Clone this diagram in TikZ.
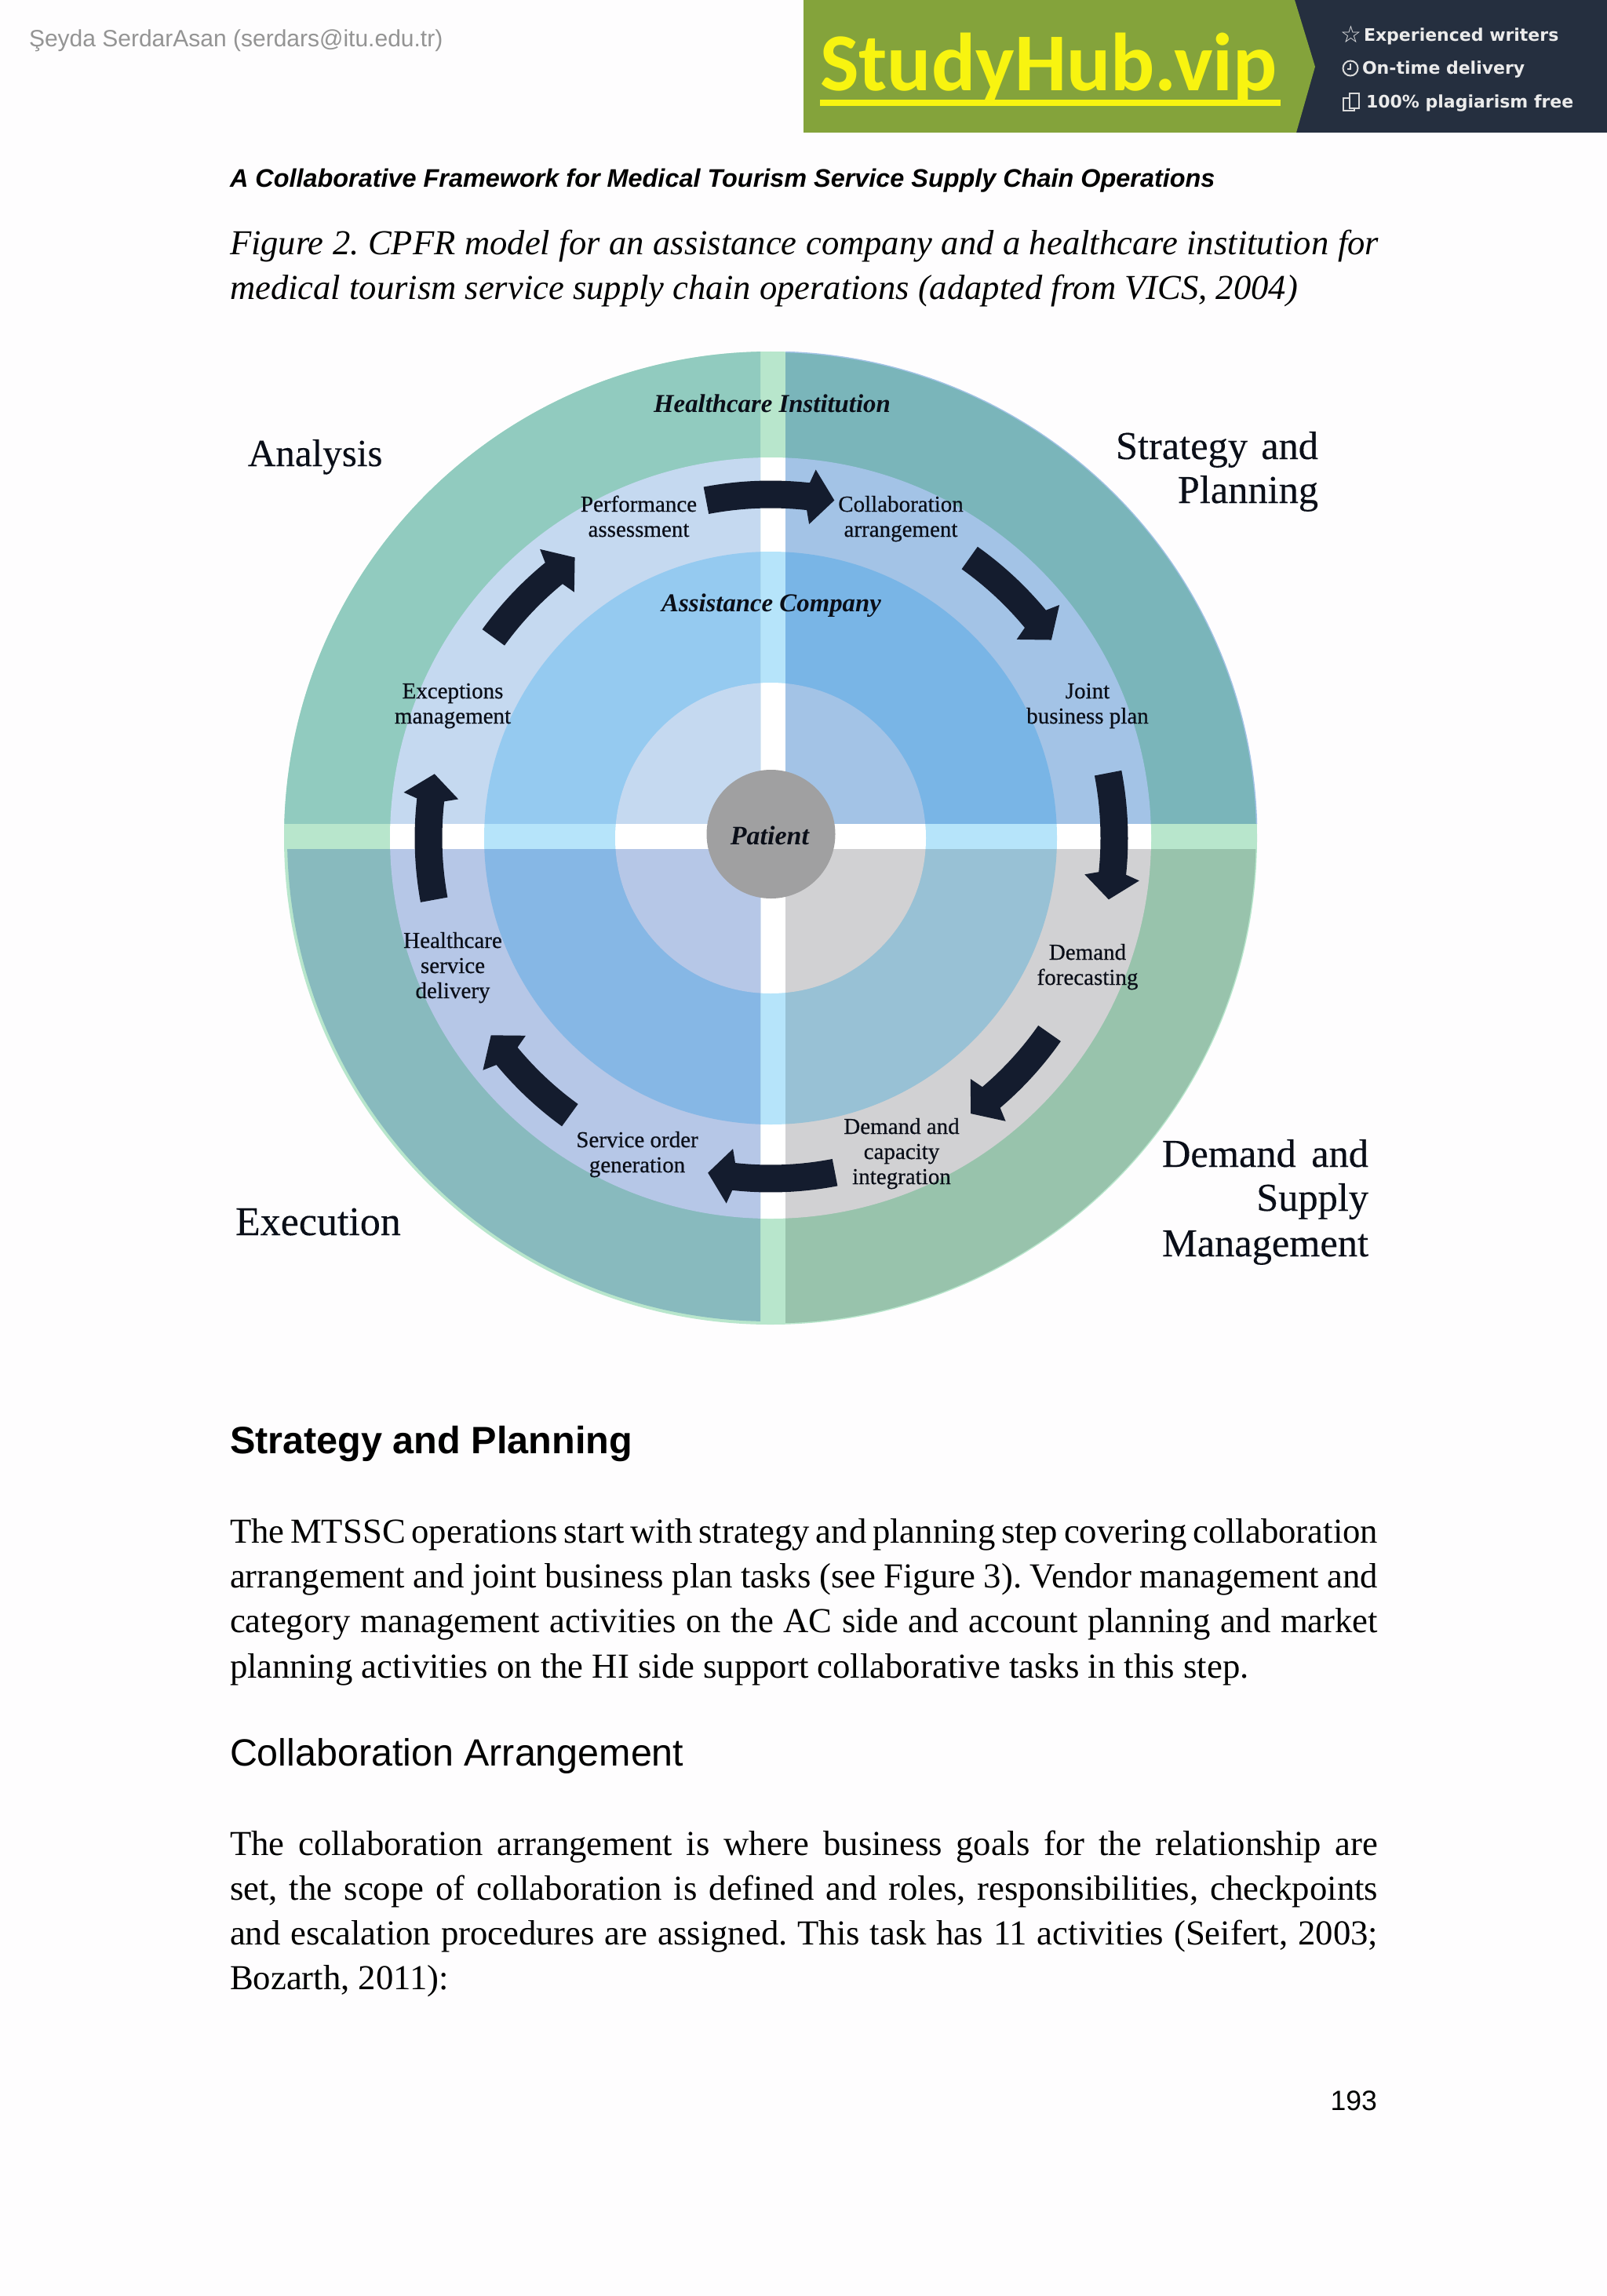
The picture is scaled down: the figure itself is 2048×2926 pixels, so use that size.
\documentclass[tikz,border=0pt]{standalone}
\usepackage{fontspec}
\setmainfont{Liberation Serif}
\newfontfamily\arl{Liberation Sans}
\newfontfamily\djv{DejaVu Sans}
\newfontfamily\crb{Carlito}
\newfontfamily\wheeltxt[FakeBold=0.5]{Liberation Serif}
\newfontfamily\phasetxt[FakeBold=0.25]{Liberation Serif}
\definecolor{paper}{HTML}{FEFDFE}
\definecolor{tlA}{HTML}{91CBBF}\definecolor{trA}{HTML}{7AB5BA}\definecolor{blA}{HTML}{88BABE}\definecolor{brA}{HTML}{98C3AC}
\definecolor{tlB}{HTML}{C5D9F0}\definecolor{trB}{HTML}{A3C3E6}\definecolor{blB}{HTML}{B6C7E7}\definecolor{brB}{HTML}{D1D1D3}
\definecolor{tlC}{HTML}{95CAF0}\definecolor{trC}{HTML}{79B5E6}\definecolor{blC}{HTML}{86B7E5}\definecolor{brC}{HTML}{98C1D5}
\definecolor{bandG}{HTML}{B8E6CC}\definecolor{bandB}{HTML}{B6E4FA}
\definecolor{patientg}{HTML}{A0A0A1}\definecolor{arrowc}{HTML}{141C2E}\definecolor{inkc}{HTML}{0A0E18}
\definecolor{bannerg}{HTML}{84A33B}\definecolor{bannerd}{HTML}{252F3F}\definecolor{bannery}{HTML}{F8F410}
\tikzset{
 txt/.style={inner sep=0pt,outer sep=0pt,anchor=base,align=center},
 txtl/.style={inner sep=0pt,outer sep=0pt,anchor=base west},
 txtr/.style={inner sep=0pt,outer sep=0pt,anchor=base east},
 task/.style={txt,font=\fontsize{14.5}{16}\selectfont\wheeltxt,text=inkc},
 phase/.style={font=\fontsize{25.2}{28}\selectfont\phasetxt,text=inkc},
 actor/.style={txt,font=\fontsize{16.4}{18}\selectfont\bfseries\itshape,text=inkc},
 body/.style={txtl,font=\fontsize{22.35}{28}\selectfont},
 captext/.style={txtl,font=\fontsize{22.3}{28}\selectfont\itshape},
 perk/.style={txtl,font=\fontsize{11}{13}\selectfont\djv\bfseries,text=white!92!black},
 arrowfill/.style={fill=arrowc,draw=none}
}
% clockwise block arrow on a circle round the origin of the current scope
\newcommand\arcarrow[3]{%
 \fill[arrowfill] ({#1}:{#3+17.5}) arc[start angle={#1},end angle={#2+4.4},radius={#3+17.5}]
  -- ({#2+3.7}:{#3+35}) -- ({#2}:{#3}) -- ({#2+3.7}:{#3-35}) -- ({#2+4.4}:{#3-17.5})
  arc[start angle={#2+4.4},end angle={#1},radius={#3-17.5}] -- cycle;}
\newcommand\quadrant[3]{%
 \fill[#1A] (0,0) circle[radius=#3];
 \fill[#1B] (0,0) circle[radius=485];
 \fill[#1C] (0,0) circle[radius=365];
 \fill[#1B] (0,0) circle[radius=198];}
\newcommand\just[2]{\makebox[#1][s]{#2}}
\begin{document}
\frenchspacing
\begin{tikzpicture}[x=.5pt,y=.5pt]
\useasboundingbox (0,0) rectangle (2048,-2926);
\fill[paper] (0,0) rectangle (2048,-2926);
% author stamp
\node[txtl,font=\fontsize{15}{17}\selectfont\arl,text=black!42] (stamp) at (37,-60) {Şeyda SerdarAsan (serdars@itu.edu.tr)};
% banner
\fill[bannerd] (1640,0) rectangle (2048,-169);
\fill[bannerg] (1024,0) -- (1650,0) -- (1676,-85) -- (1652,-169) -- (1024,-169) -- cycle;
\node[txtl,font=\fontsize{52.4}{54}\selectfont\crb\bfseries,text=bannery] (brand) at (1045,-116) {StudyHub.vip};
\fill[bannery] (1045,-127) rectangle (1632,-135);
\node[perk] (p1) at (1738,-53) {Experienced writers};
\node[perk] (p2) at (1736,-95) {On-time delivery};
\node[perk] (p3) at (1741,-138) {100\% plagiarism free};
\node[txtl,font=\fontsize{15}{16}\selectfont\djv,text=white!92!black] (star) at (1708,-55) {☆};
\draw[white!85!black,line width=1pt] (1721,-87) circle[radius=9.5];
\draw[white!85!black,line width=1pt] (1721,-81) -- (1721,-88) -- (1717,-88);
\draw[white!85!black,line width=1pt] (1712,-125) rectangle (1726,-141);
\draw[white!85!black,line width=1pt,fill=bannerd] (1720,-119) rectangle (1732,-138);
% running head and caption
\node[txtl,font=\fontsize{16.2}{18}\selectfont\arl\bfseries\itshape] (runhead) at (293,-239) {A Collaborative Framework for Medical Tourism Service Supply Chain Operations};
\node[captext] (cap1) at (293,-325) {\just{732pt}{Figure 2. CPFR model for an assistance company and a healthcare institution for}};
\node[captext] (cap2) at (293,-382) {medical tourism service supply chain operations (adapted from VICS, 2004)};
% wheel
\begin{scope}[shift={(982,-1068)}]
 \fill[bandG] (0,0) circle[radius=620];
 \fill[white] (0,0) circle[radius=485];
 \fill[bandB] (0,0) circle[radius=365];
 \fill[white] (0,0) circle[radius=198];
\end{scope}
\begin{scope}\clip (0,-1049) rectangle (969,0);
 \begin{scope}[shift={(982,-1068)}]\quadrant{tl}{}{620}\end{scope}\end{scope}
\begin{scope}\clip (1001,0) rectangle (2048,-1049);
 \begin{scope}[shift={(982,-1068)}]\fill[trB] (0,0) circle[radius=620.5];\quadrant{tr}{}{619}\end{scope}\end{scope}
\begin{scope}\clip (0,-1082) rectangle (969,-2000);
 \begin{scope}[shift={(982,-1068)}]\quadrant{bl}{}{616}\end{scope}\end{scope}
\begin{scope}\clip (1001,-1082) rectangle (2048,-2000);
 \begin{scope}[shift={(982,-1068)}]\quadrant{br}{}{618.5}\end{scope}\end{scope}
\node[circle,fill=patientg,minimum size=82pt,inner sep=0pt] (hub) at (982.5,-1063) {};
\begin{scope}[shift={(982,-1068)}]
 \arcarrow{100.8}{79.3}{438}
 \arcarrow{54.6}{35.2}{438}
 \arcarrow{10.9}{-10.3}{438}
 \arcarrow{-35}{-54}{434}
 \arcarrow{-79.1}{-100.6}{434}
 \arcarrow{-125.9}{-144.8}{436}
 \arcarrow{-169.6}{-190.8}{436}
 \arcarrow{-215.9}{-235.1}{436}
\end{scope}
% wheel texts
\node[actor] (hi) at (984,-525) {Healthcare Institution};
\node[actor] (ac) at (983,-779) {Assistance Company};
\node[actor,font=\fontsize{17}{19}\selectfont\bfseries\itshape] (pat) at (981,-1076) {Patient};
\node[task] (t1) at (814,-684) {Performance\\assessment};
\node[task] (t2) at (1148,-684) {Collaboration\\arrangement};
\node[task] (t3) at (1386,-922) {Joint\\business plan};
\node[task] (t4) at (1386,-1255) {Demand\\forecasting};
\node[task] (t5) at (1149,-1509) {Demand and\\capacity\\integration};
\node[task] (t6) at (812,-1494) {Service order\\generation};
\node[task] (t7) at (577,-1272) {Healthcare\\service\\delivery};
\node[task] (t8) at (577,-922) {Exceptions\\management};
% phase names
\node[phase,txtl,font=\fontsize{24.5}{28}\selectfont\phasetxt] (ph1) at (316,-594) {Analysis};
\node[phase,txtr] (ph2a) at (1680,-585) {\just{129pt}{Strategy and}};
\node[phase,txtr] (ph2b) at (1680,-641) {Planning};
\node[phase,txtl,font=\fontsize{26}{28}\selectfont\phasetxt] (ph3) at (300,-1574) {Execution};
\node[phase,txtr] (ph4a) at (1744,-1487) {\just{131.5pt}{Demand and}};
\node[phase,txtr] (ph4b) at (1744,-1543) {Supply};
\node[phase,txtr] (ph4c) at (1744,-1601) {Management};
% text below the figure
\node[txtl,font=\fontsize{24.3}{28}\selectfont\arl\bfseries] (sec) at (293,-1852) {Strategy and Planning};
\node[body] (b1) at (293,-1966) {\just{731.5pt}{The MTSSC operations start with strategy and planning step covering collaboration}};
\node[body] (b2) at (293,-2023) {\just{731.5pt}{arrangement and joint business plan tasks (see Figure 3). Vendor management and}};
\node[body] (b3) at (293,-2080) {\just{731.5pt}{category management activities on the AC side and account planning and market}};
\node[body] (b4) at (293,-2138) {planning activities on the HI side support collaborative tasks in this step.};
\node[txtl,font=\fontsize{24.2}{28}\selectfont\arl] (sub) at (293,-2250) {Collaboration Arrangement};
\node[body] (c1) at (293,-2364) {\just{731.5pt}{The collaboration arrangement is where business goals for the relationship are}};
\node[body] (c2) at (293,-2421) {\just{731.5pt}{set, the scope of collaboration is defined and roles, responsibilities, checkpoints}};
\node[body] (c3) at (293,-2478) {\just{731.5pt}{and escalation procedures are assigned. This task has 11 activities (Seifert, 2003;}};
\node[body] (c4) at (293,-2535) {Bozarth, 2011):};
\node[txtr,font=\fontsize{17.8}{20}\selectfont\arl] (pg) at (1755,-2689) {193};
\end{tikzpicture}
\end{document}
